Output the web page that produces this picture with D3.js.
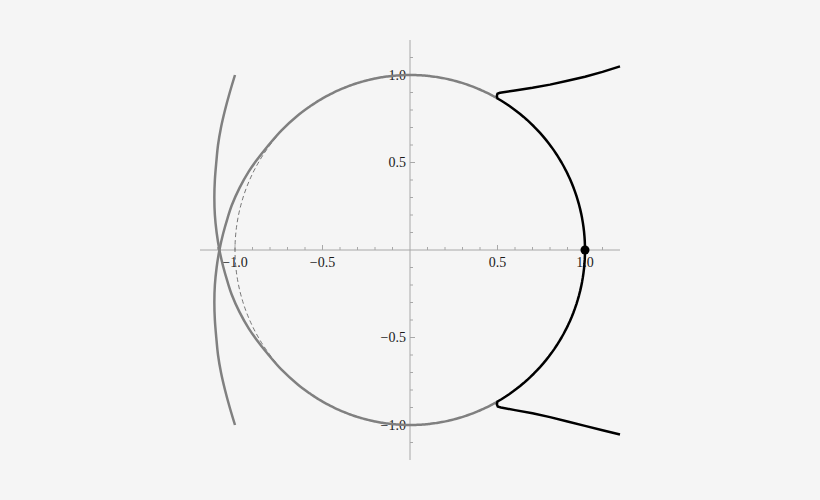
<!DOCTYPE html>
<html><head><meta charset="utf-8">
<script src="https://cdn.jsdelivr.net/npm/d3@7"></script>
<style>
html,body{margin:0;padding:0;background:#f5f5f5;}
svg{display:block;}
text{font-family:"Liberation Serif","Times New Roman",serif;font-size:14px;fill:#1a1a1a;}
</style></head>
<body>
<svg id="chart" width="820" height="500"></svg>
<script>
// ---- data ----
const xDomain = [-1.2, 1.2];
const yDomain = [-1.2, 1.2];
const majorTicks = [-1.0, -0.5, 0.5, 1.0];
const tickLabels = ["\u22121.0", "\u22120.5", "0.5", "1.0"];
const minorTicks = [-1.1,-1.0,-0.9,-0.8,-0.7,-0.6,-0.5,-0.4,-0.3,-0.2,-0.1,0.1,0.2,0.3,0.4,0.5,0.6,0.7,0.8,0.9,1.0,1.1];

// unit circle (dashed reference) radius
const unitRadius = 1;

// gray curve A: follows unit circle from 60° to 125°, then these points
const grayArcA = [60, 125];
const grayTailA = [
  [-0.643, 0.767], [-0.734, 0.684], [-0.81, 0.597], [-0.880, 0.508], [-0.921, 0.449],
  [-0.974, 0.355], [-1.019, 0.254], [-1.042, 0.184], [-1.068, 0.093], [-1.089, 0.0],
  [-1.105, -0.1], [-1.115, -0.2], [-1.118, -0.3], [-1.115, -0.4], [-1.107, -0.5],
  [-1.097, -0.6], [-1.08, -0.7], [-1.057, -0.8], [-1.03, -0.9], [-1.0, -1.0]
];
// gray curve B: follows unit circle from -60° to -125°, then these points
const grayArcB = [-60, -125];
const grayTailB = [
  [-0.643, -0.767], [-0.734, -0.684], [-0.81, -0.597], [-0.880, -0.508], [-0.921, -0.449],
  [-0.974, -0.355], [-1.019, -0.254], [-1.042, -0.184], [-1.068, -0.093], [-1.089, 0.0],
  [-1.105, 0.1], [-1.115, 0.2], [-1.118, 0.3], [-1.115, 0.4], [-1.107, 0.5],
  [-1.097, 0.6], [-1.08, 0.7], [-1.057, 0.8], [-1.03, 0.9], [-1.0, 1.0]
];

// black curve: unit-circle arc from -60° to 60° plus two branches
const blackArc = [-60, 60];
const upperBranch = [
  [0.5, 0.866], [0.496, 0.88], [0.5, 0.893], [0.515, 0.899], [0.533, 0.902],
  [0.6, 0.912], [0.7, 0.927], [0.8, 0.945], [0.9, 0.967], [1.0, 0.99],
  [1.1, 1.018], [1.2, 1.049]
];
const lowerBranch = [
  [0.5, -0.866], [0.496, -0.882], [0.502, -0.895], [0.52, -0.9], [0.6, -0.915],
  [0.7, -0.933], [0.8, -0.955], [0.9, -0.98], [1.0, -1.005], [1.1, -1.03],
  [1.2, -1.054]
];
const fixedPoint = [1.0, 0.0];

// ---- drawing ----
const svg = d3.select("#chart");
const x = d3.scaleLinear().domain(xDomain).range([200, 620]);
const y = d3.scaleLinear().domain(yDomain).range([460, 40]);
const axisColor = "#a8a8a8";

function arcPoints(a0, a1) {
  const n = 80, pts = [];
  for (let i = 0; i <= n; i++) {
    const a = (a0 + (a1 - a0) * i / n) * Math.PI / 180;
    pts.push([unitRadius * Math.cos(a), unitRadius * Math.sin(a)]);
  }
  return pts;
}

const g = svg.append("g");
g.append("line").attr("x1", x(xDomain[0])).attr("x2", x(xDomain[1]))
  .attr("y1", y(0)).attr("y2", y(0)).attr("stroke", axisColor).attr("stroke-width", 1);
g.append("line").attr("y1", y(yDomain[0])).attr("y2", y(yDomain[1]))
  .attr("x1", x(0)).attr("x2", x(0)).attr("stroke", axisColor).attr("stroke-width", 1);

const isMajor = v => majorTicks.some(m => Math.abs(m - v) < 1e-9);
g.selectAll(".xt").data(minorTicks).join("line")
  .attr("x1", d => x(d)).attr("x2", d => x(d))
  .attr("y1", y(0)).attr("y2", d => y(0) - (isMajor(d) ? 5 : 3))
  .attr("stroke", axisColor);
g.selectAll(".yt").data(minorTicks).join("line")
  .attr("y1", d => y(d)).attr("y2", d => y(d))
  .attr("x1", x(0)).attr("x2", d => x(0) + (isMajor(d) ? 5 : 3))
  .attr("stroke", axisColor);

const labels = svg.append("g").attr("opacity", 0.999);
labels.selectAll(".xl").data(majorTicks).join("text")
  .attr("x", d => x(d)).attr("y", y(0) + 17)
  .attr("text-anchor", "middle").text((d, i) => tickLabels[i]);
labels.selectAll(".yl").data(majorTicks).join("text")
  .attr("x", x(0) - 4).attr("y", d => y(d)).attr("dy", "0.33em")
  .attr("text-anchor", "end").text((d, i) => tickLabels[i]);

const line = d3.line().x(d => x(d[0])).y(d => y(d[1])).curve(d3.curveCatmullRom.alpha(0.5));
const lineLin = d3.line().x(d => x(d[0])).y(d => y(d[1]));

svg.append("circle").attr("cx", x(0)).attr("cy", y(0)).attr("r", x(unitRadius) - x(0))
  .attr("fill", "none").attr("stroke", "#555").attr("stroke-width", 0.8)
  .attr("stroke-dasharray", "4.5,3");

[[grayArcA, grayTailA], [grayArcB, grayTailB]].forEach(([arc, tail]) => {
  const pts = arcPoints(arc[0], arc[1]).concat(tail);
  svg.append("path").attr("d", line(pts)).attr("fill", "none")
    .attr("stroke", "#808080").attr("stroke-width", 2.5).attr("stroke-linejoin", "round");
});

const blackPts = lowerBranch.slice().reverse().concat(arcPoints(blackArc[0], blackArc[1]).slice(1, -1), upperBranch);
svg.append("path").attr("d", lineLin(blackPts)).attr("fill", "none")
  .attr("stroke", "#000").attr("stroke-width", 2.5).attr("stroke-linejoin", "round");

svg.append("circle").attr("cx", x(fixedPoint[0])).attr("cy", y(fixedPoint[1])).attr("r", 4.5).attr("fill", "#000");
</script>
</body></html>
